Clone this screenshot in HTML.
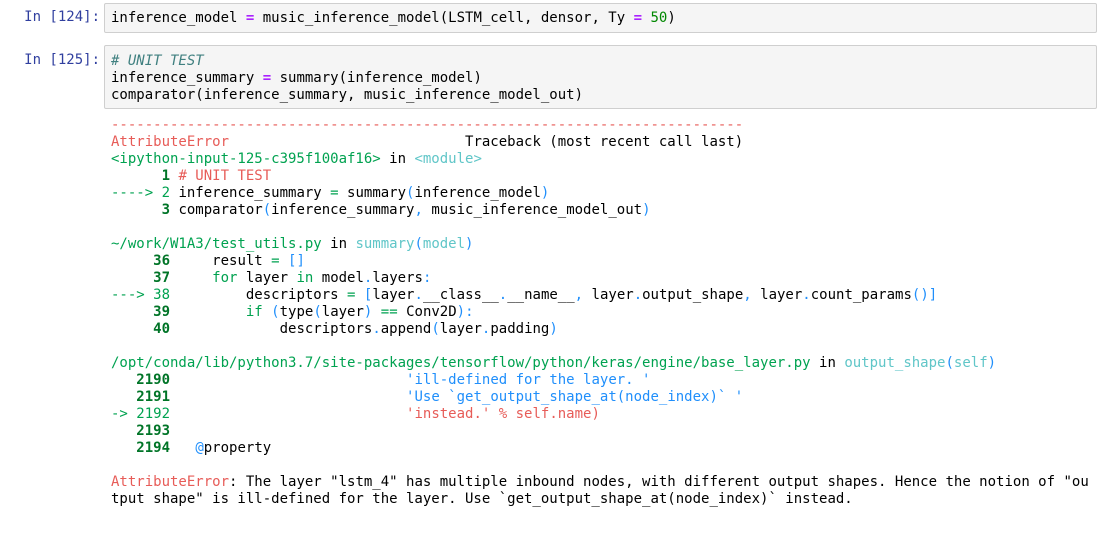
<!DOCTYPE html>
<html><head><meta charset="utf-8"><style>
body{margin:0;background:#fff;width:1112px;height:534px;overflow:hidden;position:relative;font-family:"DejaVu Sans Mono","Liberation Mono",monospace;font-size:14px;}
pre{margin:0;font-family:inherit;font-size:inherit;line-height:17px;white-space:pre;}
.box{position:absolute;left:104px;width:991px;background:#f5f5f5;border:1px solid #cfcfcf;border-radius:2px;}
.pr{position:absolute;left:0;width:100px;text-align:right;color:#303f9f;line-height:17px;}
.r{color:#e75c58}.g{color:#00a250}.c{color:#60c6c8}.b{color:#208ffb}.bg{color:#007427;font-weight:bold}
.o{color:#aa22ff;font-weight:bold}.n{color:#080}.cm{color:#408080;font-style:italic}
</style></head><body>
<div class="pr" style="top:9px">In&nbsp;[124]:</div>
<div class="box" style="top:3px;height:28px"><pre style="padding:6px 6px 0 6px">inference_model <span class="o">=</span> music_inference_model(LSTM_cell, densor, Ty <span class="o">=</span> <span class="n">50</span>)</pre></div>
<div class="pr" style="top:52px">In&nbsp;[125]:</div>
<div class="box" style="top:45px;height:62px"><pre style="padding:7px 6px 0 6px"><span class="cm"># UNIT TEST</span>
inference_summary <span class="o">=</span> summary(inference_model)
comparator(inference_summary, music_inference_model_out)</pre></div>
<pre style="position:absolute;left:111px;top:117px"><span class="r">---------------------------------------------------------------------------</span>
<span class="r">AttributeError</span>                            Traceback (most recent call last)
<span class="g">&lt;ipython-input-125-c395f100af16&gt;</span> in <span class="c">&lt;module&gt;</span>
<span class="bg">      1</span> <span class="r"># UNIT TEST</span>
<span class="g">----&gt; 2</span> inference_summary <span class="g">=</span> summary<span class="b">(</span>inference_model<span class="b">)</span>
<span class="bg">      3</span> comparator<span class="b">(</span>inference_summary<span class="b">,</span> music_inference_model_out<span class="b">)</span>

<span class="g">~/work/W1A3/test_utils.py</span> in <span class="c">summary</span><span class="b">(</span><span class="c">model</span><span class="b">)</span>
<span class="bg">     36</span>     result <span class="g">=</span> <span class="b">[</span><span class="b">]</span>
<span class="bg">     37</span>     <span class="g">for</span> layer <span class="g">in</span> model<span class="b">.</span>layers<span class="b">:</span>
<span class="g">---&gt; 38</span>         descriptors <span class="g">=</span> <span class="b">[</span>layer<span class="b">.</span>__class__<span class="b">.</span>__name__<span class="b">,</span> layer<span class="b">.</span>output_shape<span class="b">,</span> layer<span class="b">.</span>count_params<span class="b">(</span><span class="b">)</span><span class="b">]</span>
<span class="bg">     39</span>         <span class="g">if</span> <span class="b">(</span>type<span class="b">(</span>layer<span class="b">)</span> <span class="g">==</span> Conv2D<span class="b">)</span><span class="b">:</span>
<span class="bg">     40</span>             descriptors<span class="b">.</span>append<span class="b">(</span>layer<span class="b">.</span>padding<span class="b">)</span>

<span class="g">/opt/conda/lib/python3.7/site-packages/tensorflow/python/keras/engine/base_layer.py</span> in <span class="c">output_shape</span><span class="b">(</span><span class="c">self</span><span class="b">)</span>
<span class="bg">   2190</span>                            <span class="b">'ill-defined for the layer. '</span>
<span class="bg">   2191</span>                            <span class="b">'Use `get_output_shape_at(node_index)` '</span>
<span class="g">-&gt; 2192</span>                            <span class="r">'instead.' % self.name)</span>
<span class="bg">   2193</span>
<span class="bg">   2194</span>   <span class="b">@</span>property

<span class="r">AttributeError</span>: The layer "lstm_4" has multiple inbound nodes, with different output shapes. Hence the notion of "ou
tput shape" is ill-defined for the layer. Use `get_output_shape_at(node_index)` instead.</pre>
</body></html>
